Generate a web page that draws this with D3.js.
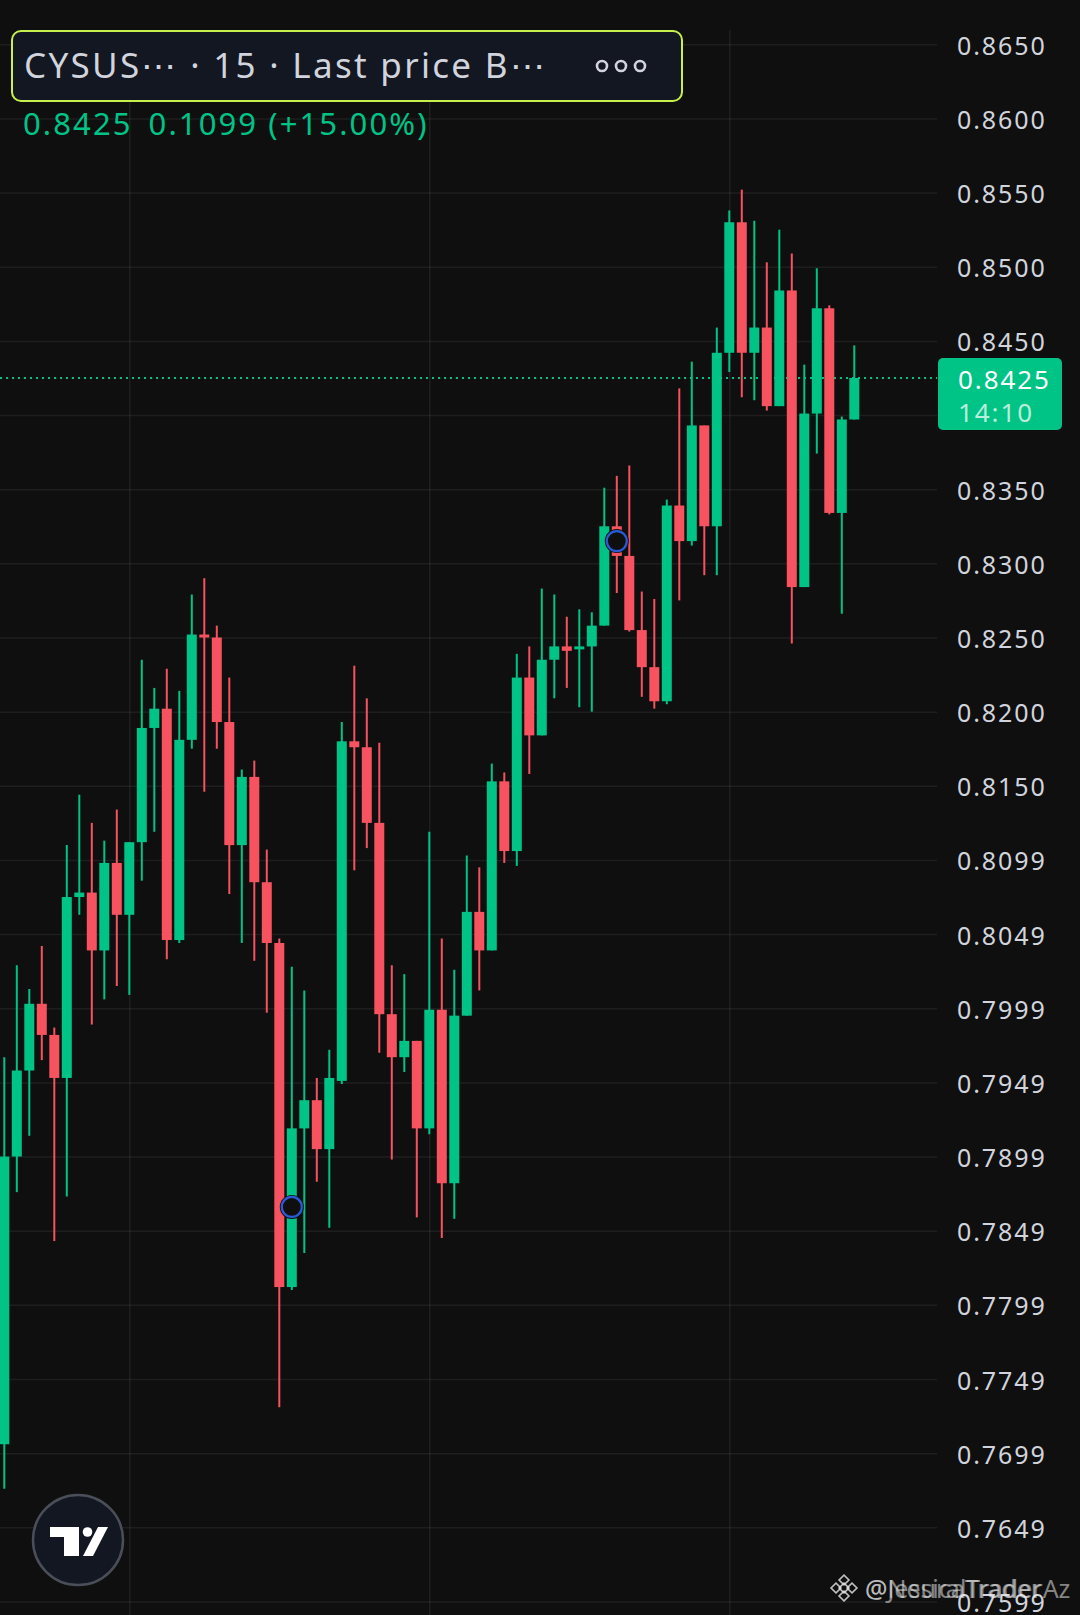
<!DOCTYPE html>
<html>
<head>
<meta charset="utf-8">
<script src="https://cdn.jsdelivr.net/npm/d3@7"></script>
<style>
  html, body { margin: 0; padding: 0; background: #0f0f0f; overflow: hidden; }
  svg { display: block; }
</style>
</head>
<body>
<div id="chart"></div>
<script>
// 15 minute bars, oldest first
const opens = [
  0.7706, 0.7900, 0.7958, 0.8003, 0.7982, 0.7953, 0.8075, 0.8078, 0.8039, 0.8098,
  0.8063, 0.8112, 0.8189, 0.8202, 0.8046, 0.8181, 0.8252, 0.8250, 0.8193, 0.8110,
  0.8156, 0.8085, 0.8044, 0.7812, 0.7919, 0.7938, 0.7905, 0.7951, 0.8180, 0.8176,
  0.8125, 0.7996, 0.7967, 0.7978, 0.7919, 0.7999, 0.7882, 0.7995, 0.8065, 0.8039,
  0.8153, 0.8106, 0.8223, 0.8184, 0.8235, 0.8244, 0.8242, 0.8244, 0.8258, 0.8325,
  0.8305, 0.8255, 0.8230, 0.8207, 0.8339, 0.8315, 0.8393, 0.8325, 0.8442, 0.8530,
  0.8442, 0.8459, 0.8406, 0.8484, 0.8284, 0.8401, 0.8472, 0.8334, 0.8397
];
const highs = [
  0.7967, 0.8029, 0.8013, 0.8042, 0.7987, 0.8110, 0.8144, 0.8125, 0.8113, 0.8134,
  0.8112, 0.8235, 0.8216, 0.8229, 0.8214, 0.8279, 0.8290, 0.8258, 0.8223, 0.8161,
  0.8167, 0.8107, 0.8047, 0.8028, 0.8012, 0.7953, 0.7972, 0.8193, 0.8231, 0.8209,
  0.8179, 0.8029, 0.8023, 0.7978, 0.8119, 0.8047, 0.8026, 0.8103, 0.8095, 0.8165,
  0.8159, 0.8239, 0.8244, 0.8283, 0.8279, 0.8264, 0.8269, 0.8267, 0.8351, 0.8359,
  0.8366, 0.8281, 0.8276, 0.8343, 0.8418, 0.8436, 0.8393, 0.8459, 0.8538, 0.8552,
  0.8531, 0.8503, 0.8525, 0.8509, 0.8434, 0.8499, 0.8474, 0.8399, 0.8447
];
const lows = [
  0.7676, 0.7876, 0.7914, 0.7965, 0.7843, 0.7873, 0.8063, 0.7989, 0.8006, 0.8015,
  0.8009, 0.8086, 0.8119, 0.8033, 0.8044, 0.8175, 0.8146, 0.8175, 0.8077, 0.8044,
  0.8032, 0.7997, 0.7731, 0.7810, 0.7835, 0.7883, 0.7852, 0.7949, 0.8093, 0.8108,
  0.7970, 0.7898, 0.7957, 0.7859, 0.7915, 0.7845, 0.7858, 0.7995, 0.8012, 0.8039,
  0.8098, 0.8096, 0.8158, 0.8184, 0.8209, 0.8216, 0.8203, 0.8200, 0.8258, 0.8280,
  0.8254, 0.8210, 0.8202, 0.8205, 0.8275, 0.8312, 0.8292, 0.8292, 0.8429, 0.8412,
  0.8410, 0.8403, 0.8406, 0.8246, 0.8284, 0.8374, 0.8333, 0.8266, 0.8397
];
const closes = [
  0.7900, 0.7958, 0.8003, 0.7982, 0.7953, 0.8075, 0.8078, 0.8039, 0.8098, 0.8063,
  0.8112, 0.8189, 0.8202, 0.8046, 0.8181, 0.8252, 0.8250, 0.8193, 0.8110, 0.8156,
  0.8085, 0.8044, 0.7812, 0.7919, 0.7938, 0.7905, 0.7953, 0.8180, 0.8176, 0.8125,
  0.7996, 0.7967, 0.7978, 0.7919, 0.7999, 0.7882, 0.7995, 0.8065, 0.8039, 0.8153,
  0.8106, 0.8223, 0.8184, 0.8235, 0.8244, 0.8241, 0.8244, 0.8258, 0.8325, 0.8305,
  0.8255, 0.8230, 0.8207, 0.8339, 0.8315, 0.8393, 0.8325, 0.8442, 0.8530, 0.8442,
  0.8459, 0.8406, 0.8484, 0.8284, 0.8401, 0.8472, 0.8334, 0.8397, 0.8425
];

// price scale (0.8400 sits under the last price tag, so it has no label)
const tickValues = [
  0.8650, 0.8600, 0.8550, 0.8500, 0.8450, 0.8400, 0.8350, 0.8300, 0.8250, 0.8200, 0.8150,
  0.8100, 0.8050, 0.8000, 0.7950, 0.7900, 0.7850, 0.7800, 0.7750, 0.7700, 0.7650, 0.7600
];
const tickLabels = [
  "0.8650", "0.8600", "0.8550", "0.8500", "0.8450", "", "0.8350", "0.8300", "0.8250", "0.8200", "0.8150",
  "0.8099", "0.8049", "0.7999", "0.7949", "0.7899", "0.7849", "0.7799", "0.7749", "0.7699", "0.7649", "0.7599"
];

// bars that carry a vertical grid line (every 6 hours)
const gridBars = [10, 34, 58];
// signal markers: bar index and price
const markerBars = [23, 49];
const markerPrices = [0.7866, 0.8315];

const lastPrice = 0.8425;
const lastPriceText = "0.8425";
const countdown = "14:10";
const titleText = "CYSUS\u22EF \u00B7 15 \u00B7 Last price B\u22EF";
const changeText = ["0.8425", "0.1099 (+15.00%)"];
const watermarks = ["@NeuralTraderAz", "@JessicaTrader"];

const W = 1080, H = 1615;
const paneRight = 937;
const up = '#00c386', down = '#f7525f';
const font = '"Noto Sans", Roboto, sans-serif';

const svg = d3.select('#chart').append('svg')
  .attr('width', W)
  .attr('height', H)
  .style('background', '#0f0f0f');

const x = d3.scaleLinear().domain([0, 68]).range([4.3, 854.3]);
const y = d3.scaleLinear().domain([0.765, 0.865]).range([1527.3, 44.3]);

// horizontal grid
const hGrid = svg.append('g')
  .call(d3.axisRight(y).tickValues(tickValues).tickSize(paneRight).tickFormat(''));
hGrid.select('.domain').remove();
hGrid.selectAll('line').attr('stroke', 'rgba(242,242,242,0.07)').attr('stroke-width', 1.5);

// vertical grid
const vGrid = svg.append('g')
  .attr('transform', 'translate(0,30)')
  .call(d3.axisBottom(x).tickValues(gridBars).tickSize(H - 30).tickFormat(''));
vGrid.select('.domain').remove();
vGrid.selectAll('line').attr('stroke', 'rgba(242,242,242,0.07)').attr('stroke-width', 1.5);

// last price dotted line (under the candles)
svg.append('line')
  .attr('x1', 0)
  .attr('x2', paneRight)
  .attr('y1', y(lastPrice))
  .attr('y2', y(lastPrice))
  .attr('stroke', up)
  .attr('stroke-width', 2)
  .attr('stroke-dasharray', '2,4');

const bars = d3.range(opens.length);
const col = i => (closes[i] >= opens[i] ? up : down);

svg.append('g').selectAll('line')
  .data(bars)
  .join('line')
  .attr('x1', i => x(i))
  .attr('x2', i => x(i))
  .attr('y1', i => y(highs[i]))
  .attr('y2', i => y(lows[i]))
  .attr('stroke', col)
  .attr('stroke-width', 2);

svg.append('g').selectAll('rect')
  .data(bars)
  .join('rect')
  .attr('x', i => x(i) - 5)
  .attr('width', 10)
  .attr('y', i => y(Math.max(opens[i], closes[i])))
  .attr('height', i => Math.max(1.5, Math.abs(y(opens[i]) - y(closes[i]))))
  .attr('fill', col);

// markers
const mk = svg.append('g').selectAll('g')
  .data(markerBars.map((b, k) => ({ b: b, p: markerPrices[k] })))
  .join('g')
  .attr('transform', d => 'translate(' + x(d.b) + ',' + y(d.p) + ')');
mk.append('circle').attr('r', 12).attr('fill', '#0f0f0f');
mk.append('circle').attr('r', 10).attr('fill', 'none')
  .attr('stroke', '#2a5bd7').attr('stroke-width', 2.2);

// price axis labels
const yAxis = svg.append('g')
  .attr('transform', 'translate(957,2)')
  .call(d3.axisRight(y).tickValues(tickValues).tickSize(0).tickPadding(0)
    .tickFormat((d, i) => tickLabels[i]));
yAxis.select('.domain').remove();
yAxis.selectAll('text')
  .attr('fill', '#d1d4dc')
  .style('font-family', font)
  .style('font-size', '25px')
  .style('letter-spacing', '1.9px');

// last price tag
const tagY = y(lastPrice);
svg.append('rect')
  .attr('x', 938).attr('y', tagY - 20)
  .attr('width', 124).attr('height', 72)
  .attr('rx', 5)
  .attr('fill', up);
svg.append('text')
  .attr('x', 958).attr('y', tagY + 11)
  .attr('fill', '#ffffff')
  .style('font-family', font).style('font-size', '26px').style('letter-spacing', '1.9px')
  .text(lastPriceText);
svg.append('text')
  .attr('x', 958).attr('y', tagY + 44)
  .attr('fill', 'rgba(255,255,255,0.72)')
  .style('font-family', font).style('font-size', '26px').style('letter-spacing', '1.9px')
  .text(countdown);

// legend header
svg.append('rect')
  .attr('x', 12).attr('y', 31)
  .attr('width', 670).attr('height', 70)
  .attr('rx', 9)
  .attr('fill', '#131722')
  .attr('stroke', '#c8f04c')
  .attr('stroke-width', 2);
svg.append('text')
  .attr('x', 24).attr('y', 78)
  .attr('fill', '#d1d4dc')
  .style('font-family', font).style('font-size', '35px').style('letter-spacing', '2.3px')
  .text(titleText);
svg.append('g').selectAll('circle')
  .data([0, 1, 2])
  .join('circle')
  .attr('cx', k => 602 + k * 19)
  .attr('cy', 66)
  .attr('r', 5)
  .attr('fill', 'none')
  .attr('stroke', '#d1d4dc')
  .attr('stroke-width', 2.6);

const chg = svg.append('text')
  .attr('x', 23).attr('y', 135)
  .attr('fill', up)
  .style('font-family', font).style('font-size', '31px').style('letter-spacing', '2.1px');
chg.append('tspan').text(changeText[0]);
chg.append('tspan').attr('dx', 16).text(changeText[1]);

// TradingView badge
const logo = svg.append('g').attr('transform', 'translate(78,1540)');
logo.append('circle').attr('r', 45).attr('fill', '#131722')
  .attr('stroke', '#4a4e58').attr('stroke-width', 2.5);
logo.append('path')
  .attr('d', 'M-28,-13H1V16H-14V-3H-28Z')
  .attr('fill', '#ffffff');
logo.append('circle').attr('cx', 9.5).attr('cy', -8).attr('r', 4.8).attr('fill', '#ffffff');
logo.append('path')
  .attr('d', 'M20,-13H30L15,16H5Z')
  .attr('fill', '#ffffff');

// watermark
const wm = svg.append('g').attr('transform', 'translate(844,1588)');
[[0, -8], [-8, 0], [8, 0], [0, 8], [0, 0]].forEach(p => {
  wm.append('rect')
    .attr('x', p[0] - 3.5).attr('y', p[1] - 3.5)
    .attr('width', 7).attr('height', 7)
    .attr('transform', 'rotate(45,' + p[0] + ',' + p[1] + ')')
    .attr('fill', 'none')
    .attr('stroke', 'rgba(235,235,235,0.8)')
    .attr('stroke-width', 1.6);
});
svg.append('g').selectAll('text')
  .data(watermarks)
  .join('text')
  .attr('x', 865)
  .attr('y', 1598)
  .attr('fill', 'rgba(235,235,235,0.55)')
  .style('font-family', font).style('font-size', '25px')
  .text(d => d);
</script>
</body>
</html>
